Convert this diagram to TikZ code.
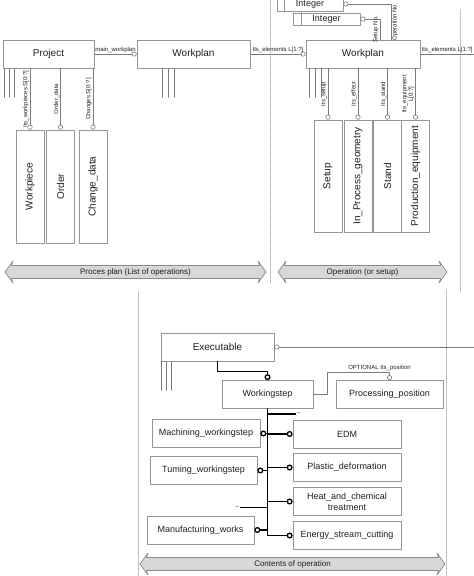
\documentclass[tikz,border=0pt]{standalone}
\usepackage{fontspec}
\setmainfont{Liberation Sans}
\usetikzlibrary{arrows.meta}
\definecolor{boxgray}{HTML}{959595}
\definecolor{linegray}{HTML}{7A7A7A}
\definecolor{bandfill}{HTML}{D8D8D8}
\definecolor{bandline}{HTML}{8A8A8A}
\definecolor{zonegreen}{HTML}{8FAF8F}
\definecolor{inkgray}{HTML}{202020}

\begin{document}
\begin{tikzpicture}
      [x=1pt,y=-1pt,line cap=round,line join=round,
       box/.style={draw=boxgray,line width=0.7pt,fill=white,inner sep=0pt,text=inkgray,
                   font=\fontsize{10}{12}\selectfont,minimum width=#1,minimum height=28pt},
       box/.default=113pt,
       sbox/.style={box=#1,font=\fontsize{9}{10.7}\selectfont,align=center},
       vbox/.style={box=#1,rotate=90},
       vbox/.default=113pt,
       conn/.style={draw=linegray,line width=0.6pt},
       ring/.style={-{Circle[open,length=5pt]}},
       rung/.style={draw=black,line width=1.3pt},
       bigring/.style={-{Circle[open,length=6pt]}},
       lab/.style={font=\fontsize{6}{6.5}\selectfont,text=inkgray,inner sep=1pt},
       vlab/.style={lab,rotate=90,align=center},
       zone/.style={draw=zonegreen,line width=0.6pt,dash pattern=on 0.7pt off 1.3pt},
       band/.style={draw=bandline,fill=bandfill,line width=0.7pt},
       bandtext/.style={font=\fontsize{8}{9}\selectfont,text=inkgray,inner sep=0pt}]

\useasboundingbox (0,0) rectangle (474,576);

%dotted zone borders
\draw[zone] (270,0) -- (270,283);
\draw[zone] (460,10) -- (460,292);
\draw[zone] (138,292) -- (138,576);
\draw[zone] (446,290) -- (446,576);

%process plan part
\node[box=91pt] (project) at (48.5,54) {Project};
\node[box=113pt] (plan) at (193.5,54) {Workplan};
\node[box=114pt] (oper) at (363,54) {Workplan};
\coordinate (rimtop) at (474,54);

\draw[conn,ring] (project) -- node[lab,above]{main\_workplan} (plan);
\draw[conn,ring] (plan) -- node[lab,above]{Its\_elements L[1:?]} (oper);
\draw[conn] (oper) -- node[lab,above]{Its\_elements L[1:?]} (rimtop);

\foreach \sx in {2,7,12}
  \draw[conn] ([xshift=\sx pt]project.south west) -- ++(0,29);
\foreach \sx in {26,32,38}
  \draw[conn] ([xshift=\sx pt]plan.south west) -- ++(0,29);
\foreach \sx in {4,10,16}
  \draw[conn] ([xshift=\sx pt]oper.south west) -- ++(0,29);

\node[vbox] (workpiece) at (30,186.5) {Workpiece};
\node[vbox] (order) at (60.5,186.5) {Order};
\node[vbox] (change) at (93,186.5) {Change\_data};

\draw[conn,ring] (project.south -| workpiece) -- node[vlab,anchor=south]{Its\_workpieces S[0:?]} (workpiece.east);
\draw[conn,ring] (project.south -| order) -- node[vlab,anchor=south]{Order\_data} (order.east);
\draw[conn,ring] (project.south -| change) -- node[vlab,anchor=south]{Changes S[0:?]} (change.east);

%operation part
\node[box=66pt,minimum height=14pt,font=\fontsize{9}{10}\selectfont] (idop) at (310,4) {Integer};
\node[box=67pt,minimum height=12pt,font=\fontsize{9}{10}\selectfont] (idset) at (326.5,19) {Integer};
\draw[draw=boxgray,line width=0.7pt] ([xshift=8pt]idop.north west) -- ([xshift=8pt]idop.south west);
\draw[draw=boxgray,line width=0.7pt] ([xshift=9pt]idset.north west) -- ([xshift=9pt]idset.south west);

\draw[conn,ring] ([xshift=28pt]oper.north) |- node[vlab,anchor=north,pos=0.25]{Operation No.} (idop.east);
\draw[conn,ring] ([xshift=17pt]oper.north) |- node[vlab,anchor=south,pos=0.25]{Setup No.} (idset.east);

\node[vbox=112pt] (setup) at (328,176) {Setup};
\node[vbox=112pt] (effect) at (358,176) {In\_Process\_geometry};
\node[vbox=112pt] (stand) at (387.5,176) {Stand};
\node[vbox=112pt] (equip) at (415.5,176) {Production\_equipment};

\draw[conn,ring] (oper.south -| setup) -- node[vlab,anchor=south]{Its\_setup} (setup.east);
\draw[conn,ring] (oper.south -| effect) -- node[vlab,anchor=south]{Its\_effect} (effect.east);
\draw[conn,ring] (oper.south -| stand) -- node[vlab,anchor=south]{Its\_stand} (stand.east);
\draw[conn,ring] (oper.south -| equip) -- node[vlab,anchor=south]{Its\_equipment\\L[0:?]} (equip.east);

%grey band arrows
\foreach \xa/\xb/\ym/\nm/\txt in {5/266/272/plan/{Proces plan (List of operations)},
                                  278/447/272/oper/{Operation (or setup)},
                                  140/445/564/cont/{Contents of operation}}
{
  \draw[band] (\xa,\ym) -- (\xa+8,\ym-11) -- (\xa+6.5,\ym-6.5) -- (\xb-6.5,\ym-6.5)
     -- (\xb-8,\ym-11) -- (\xb,\ym) -- (\xb-8,\ym+11) -- (\xb-6.5,\ym+6.5)
     -- (\xa+6.5,\ym+6.5) -- (\xa+8,\ym+11) -- cycle;
  \node[bandtext] (band\nm) at ({(\xa+\xb)/2},\ym) {\txt};
}

%contents of operation
\node[box=113pt] (exec) at (217.5,347) {Executable};
\node[sbox=91pt] (wstep) at (267.5,394.5) {Workingstep};
\node[sbox=107pt] (ppos) at (389.5,394.5) {Processing\_position};
\node[sbox=108pt] (edm) at (347,434) {EDM};
\node[sbox=108pt] (plastic) at (347,467.5) {Plastic\_deformation};
\node[sbox=108pt] (heat) at (347,501.5) {Heat\_and\_chemical\\treatment};
\node[sbox=108pt] (energy) at (347,535.5) {Energy\_stream\_cutting};
\node[sbox=108pt] (machining) at (206,433.5) {Machining\_workingstep};
\node[sbox=107pt] (turning) at (203.5,470.5) {Tuming\_workingstep};
\node[sbox=107pt] (manufact) at (200.5,530) {Manufacturing\_works};
\coordinate (rimlow) at (474,347);

\draw[conn,ring] (rimlow) -- (exec.east);
\foreach \sx in {1,6,11}
  \draw[conn] ([xshift=\sx pt]exec.south west) -- ++(0,29);

\draw[conn,ring] (wstep.east) -- ++(14,0) |- ([yshift=8pt]ppos.north) -- (ppos.north);
\node[lab,above] (optlab) at ([xshift=-10pt,yshift=8pt]ppos.north) {OPTIONAL Its\_position};

\draw[rung,bigring] (exec.south) |- ([yshift=9pt]wstep.north) -- (wstep.north);
\draw[rung,bigring] (wstep.south) |- (energy.west);
\foreach \tg in {edm,plastic,heat}
  \draw[rung,bigring] (wstep.south |- \tg.west) -- (\tg.west);
\foreach \tg in {machining,turning,manufact}
  \draw[rung,bigring] (wstep.south |- \tg.east) -- (\tg.east);

\draw[rung] ([yshift=-5pt]wstep.south) -- ++(28,0) node[lab,right] (dashup) {--};
\draw[rung] ([yshift=-6pt]wstep.south |- heat.west) -- ++(-27,0) node[lab,left] (dashlow) {--};

\end{tikzpicture}
\end{document}
